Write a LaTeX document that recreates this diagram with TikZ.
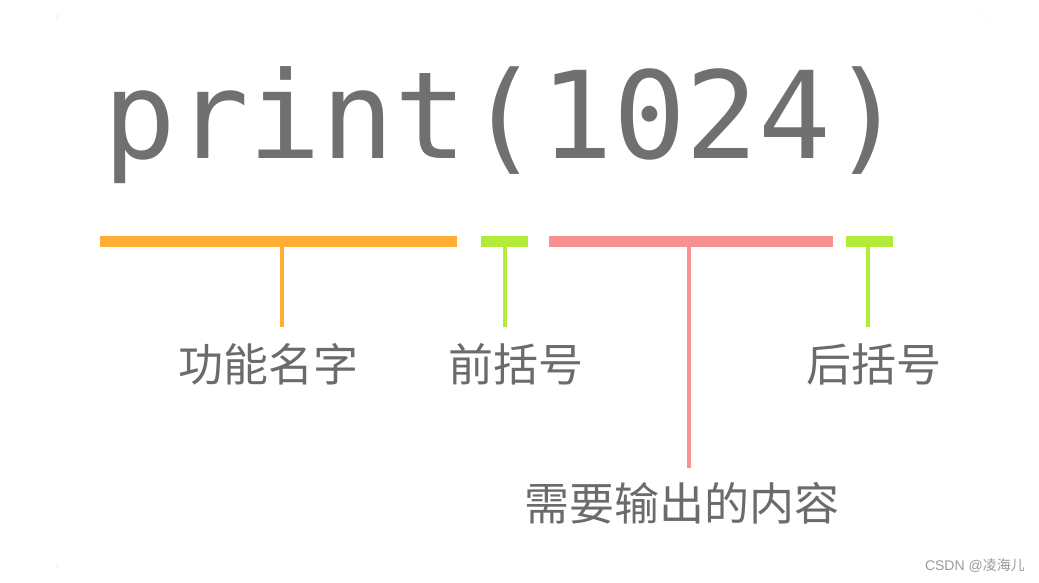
\documentclass[tikz,border=0pt]{standalone}
\usepackage{fontspec}
\setmonofont{DejaVu Sans Mono}
\newfontfamily\cjk{Noto Sans CJK SC}
\newfontfamily\wmfont{Liberation Sans}
\begin{document}
\begin{tikzpicture}[x=1pt,y=-1pt,
  codetxt/.style={inner sep=0pt,anchor=base west,text=codegray,font=\fontsize{121}{121}\ttfamily},
  lbl/.style={inner sep=0pt,text=lblgray,font=\fontsize{45}{45}\cjk},
  barline/.style={line width=11pt},
  stemline/.style={line width=4pt}]
\definecolor{codegray}{HTML}{707070}
\definecolor{lblgray}{HTML}{6B6B6B}
\definecolor{orangec}{HTML}{FFAE35}
\definecolor{greenc}{HTML}{B3EB3A}
\definecolor{pinkc}{HTML}{F79090}
\definecolor{bgcorner}{HTML}{F5F5F5}
\definecolor{wmgray}{HTML}{9A9A9A}
\useasboundingbox (0,0) rectangle (1039,582);
\fill[white] (0,0) rectangle (1039,582);
\fill[bgcorner] (56,15) rectangle (985,568);
\fill[white,rounded corners=6pt] (56,15) rectangle (985,568);
% code text
\node[codetxt] (code) at (103,158) {print(1024)};
% bars
\coordinate (o1) at (100,241.5); \coordinate (o2) at (457,241.5);
\coordinate (g1) at (481,241.5); \coordinate (g2) at (528,241.5);
\coordinate (p1) at (549,241.5); \coordinate (p2) at (833,241.5);
\coordinate (h1) at (846,241.5); \coordinate (h2) at (893,241.5);
\draw[barline,orangec] (o1) -- (o2);
\draw[barline,greenc] (g1) -- (g2);
\draw[barline,pinkc] (p1) -- (p2);
\draw[barline,greenc] (h1) -- (h2);
% stems
\coordinate (os) at (282,247); \coordinate (oe) at (282,327);
\coordinate (gs) at (505,247); \coordinate (ge) at (505,327);
\coordinate (ps) at (689,247); \coordinate (pe) at (689,468);
\coordinate (hs) at (868,247); \coordinate (he) at (868,327);
\draw[stemline,orangec] (os) -- (oe);
\draw[stemline,greenc] (gs) -- (ge);
\draw[stemline,pinkc] (ps) -- (pe);
\draw[stemline,greenc] (hs) -- (he);
% labels
\node[lbl] (l1) at (268,364) {功能名字};
\node[lbl] (l2) at (516,364) {前括号};
\node[lbl] (l4) at (874,364) {后括号};
\node[lbl] (l3) at (682,503) {需要输出的内容};
% watermark
\node[inner sep=0pt,anchor=east,text=wmgray,font=\fontsize{14}{14}\wmfont] (wm) at (1025,566) {CSDN @{\cjk 凌海儿}};
\end{tikzpicture}
\end{document}
